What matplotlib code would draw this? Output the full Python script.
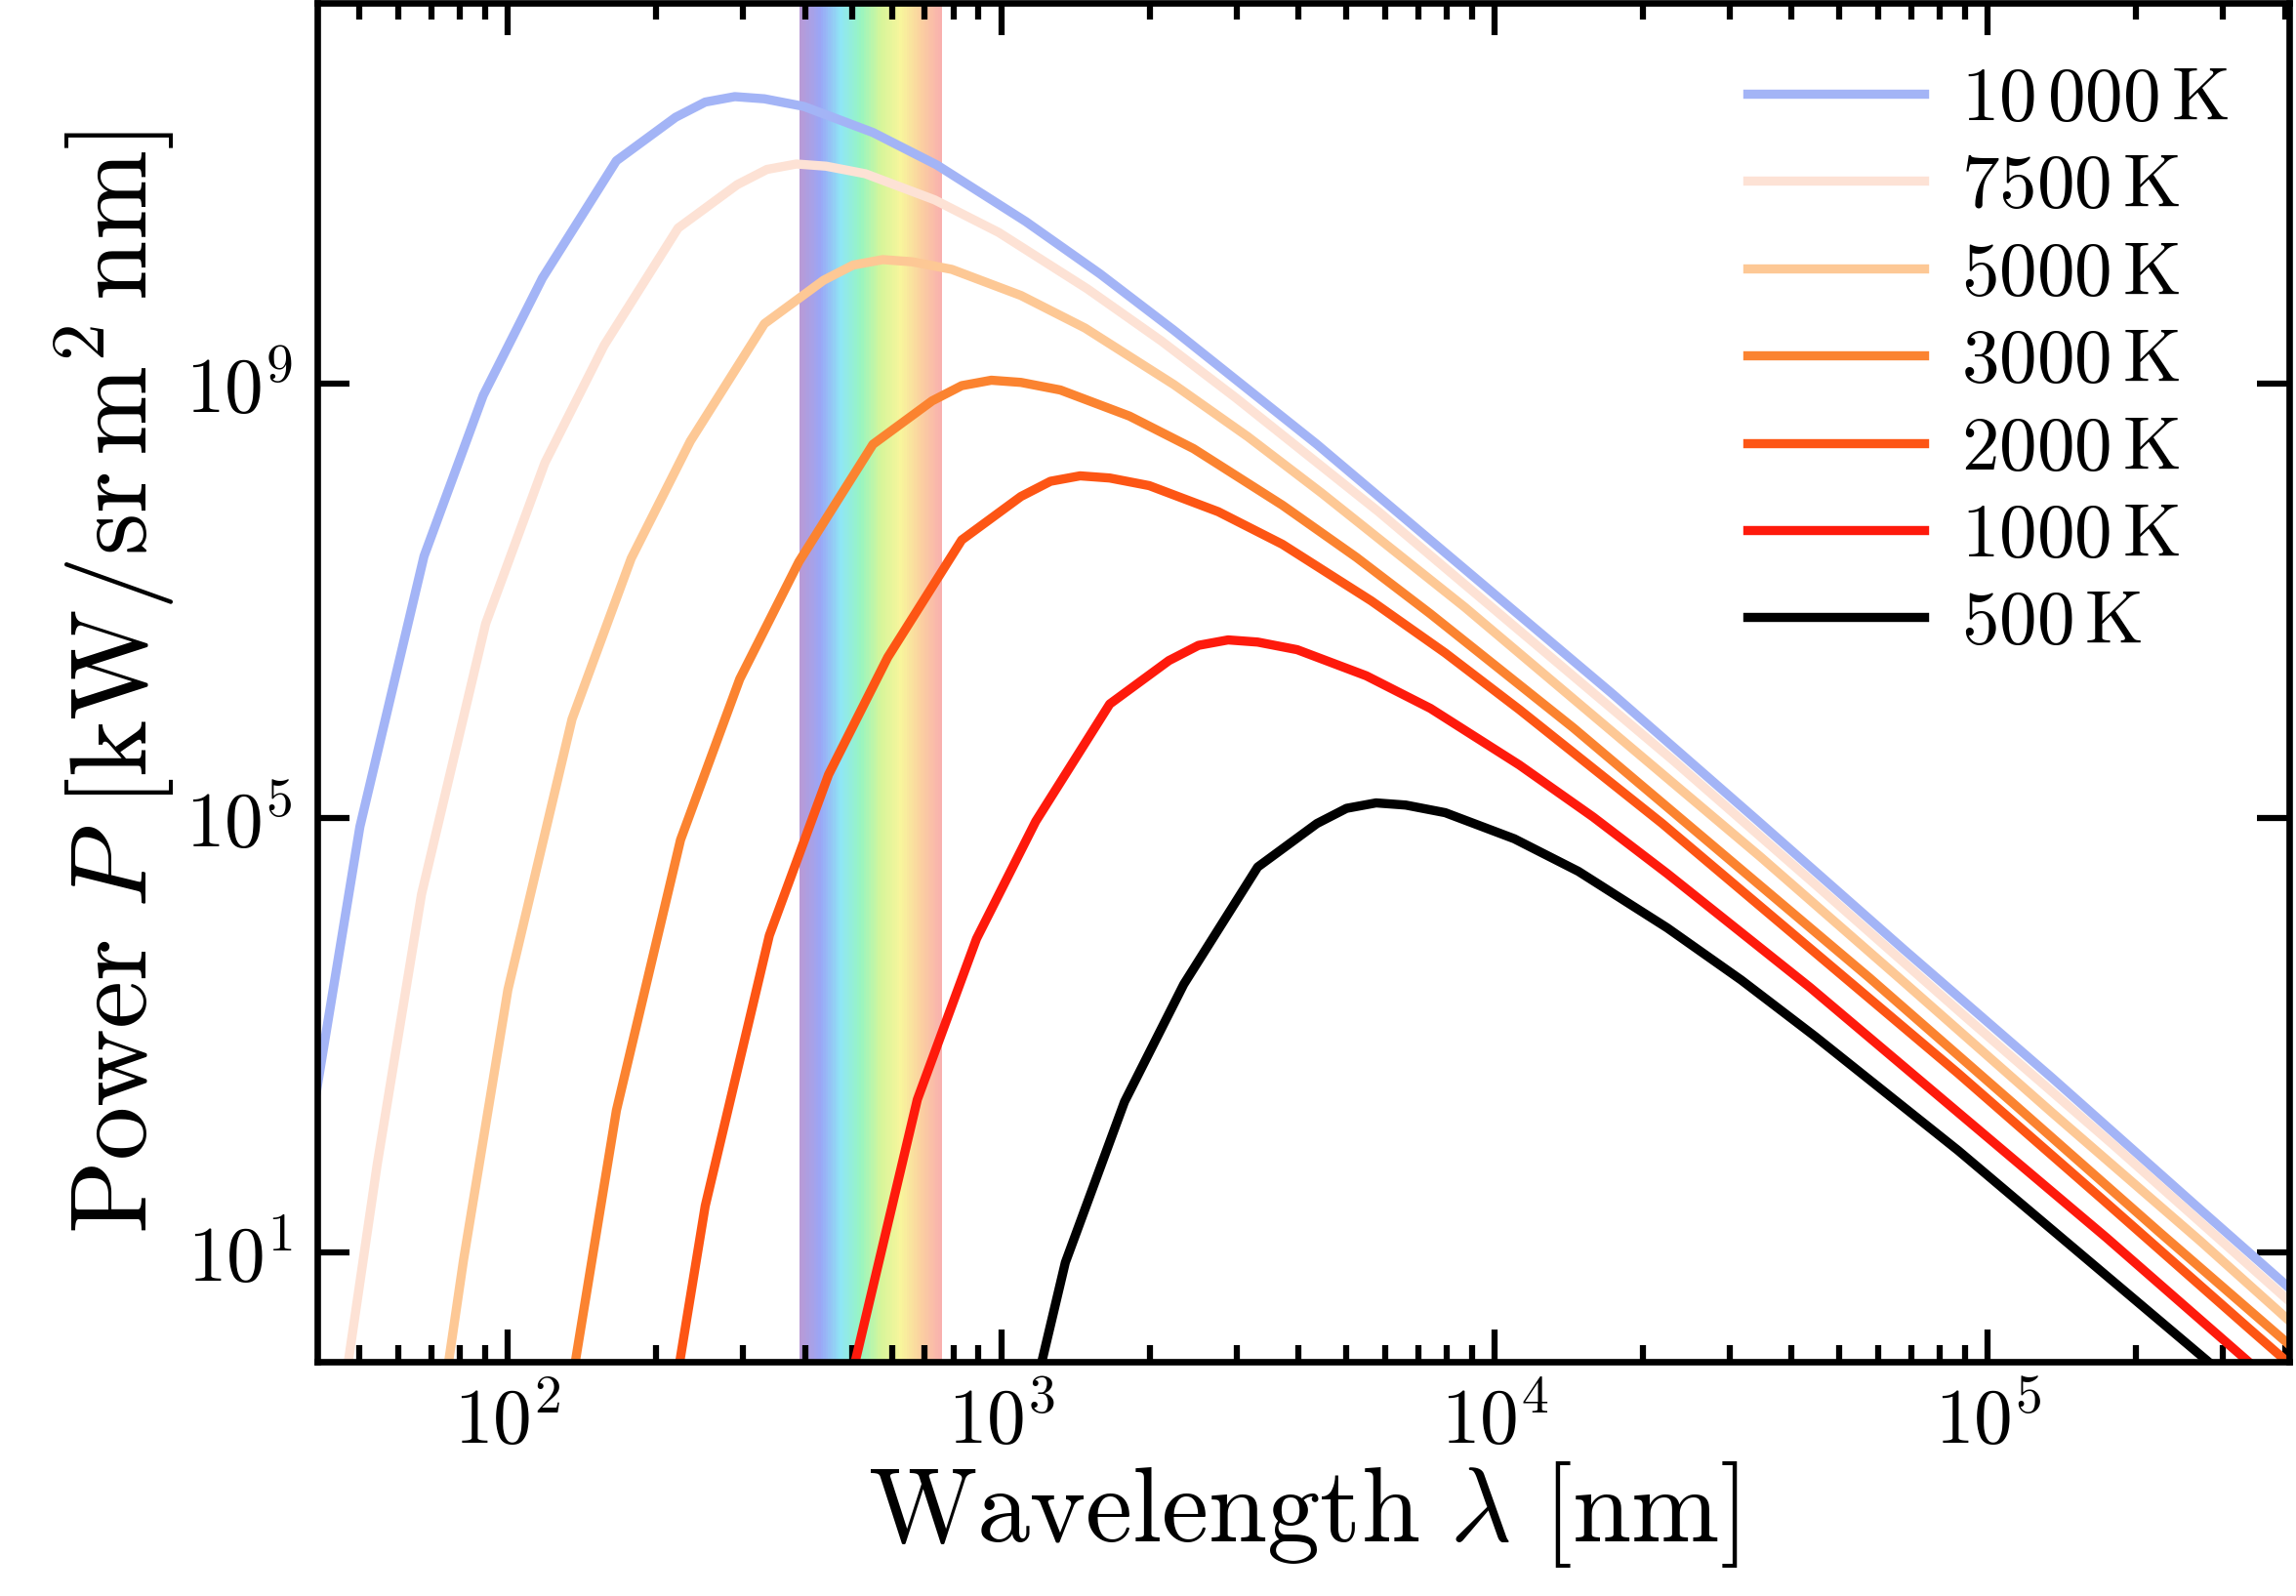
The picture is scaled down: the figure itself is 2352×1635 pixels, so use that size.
import matplotlib
matplotlib.use("Agg")
import matplotlib.pyplot as plt
import numpy as np
from matplotlib.colors import LinearSegmentedColormap
from matplotlib.ticker import NullLocator, LogLocator

plt.rcParams["mathtext.fontset"] = "cm"
plt.rcParams["font.family"] = "serif"
plt.rcParams["font.serif"] = ["DejaVu Serif"]

# log10(wavelength / nm) and log10(power), per temperature
labels = [r"$10\,000\,\mathrm{K}$", r"$7500\,\mathrm{K}$", r"$5000\,\mathrm{K}$",
          r"$3000\,\mathrm{K}$", r"$2000\,\mathrm{K}$", r"$1000\,\mathrm{K}$", r"$500\,\mathrm{K}$"]
colors = ["#a3b4f6", "#fde2d5", "#fdc895", "#fb8330", "#fd5514", "#fe1a0c", "#000000"]

lx_10000 = [1.51, 1.61, 1.70, 1.83, 1.95, 2.07, 2.22, 2.34, 2.40, 2.46, 2.52, 2.60, 2.74, 2.87, 3.05, 3.20, 3.35, 3.64, 3.94, 4.24, 4.53, 4.83, 5.13, 5.42, 5.72]
ly_10000 = [-0.66, 2.43, 4.92, 7.41, 8.89, 9.97, 11.05, 11.45, 11.59, 11.64, 11.62, 11.55, 11.31, 11.01, 10.49, 10.01, 9.49, 8.44, 7.29, 6.14, 4.99, 3.79, 2.61, 1.44, 0.24]
lx_7500 = [1.635, 1.735, 1.825, 1.955, 2.075, 2.195, 2.345, 2.465, 2.525, 2.585, 2.645, 2.725, 2.865, 2.995, 3.175, 3.325, 3.475, 3.765, 4.065, 4.365, 4.655, 4.955, 5.255, 5.545, 5.845]
ly_7500 = [-1.29, 1.81, 4.30, 6.79, 8.27, 9.35, 10.43, 10.83, 10.97, 11.02, 11.00, 10.93, 10.69, 10.39, 9.87, 9.39, 8.87, 7.82, 6.67, 5.52, 4.37, 3.17, 1.99, 0.82, -0.39]
lx_5000 = [1.81, 1.91, 2.00, 2.13, 2.25, 2.37, 2.52, 2.64, 2.70, 2.76, 2.82, 2.90, 3.04, 3.17, 3.35, 3.50, 3.65, 3.94, 4.24, 4.54, 4.83, 5.13, 5.43, 5.72, 6.02]
ly_5000 = [-2.17, 0.93, 3.42, 5.91, 7.39, 8.47, 9.55, 9.95, 10.09, 10.14, 10.12, 10.05, 9.81, 9.51, 8.99, 8.51, 7.99, 6.94, 5.79, 4.64, 3.49, 2.29, 1.11, -0.07, -1.27]
lx_3000 = [2.03, 2.13, 2.22, 2.35, 2.47, 2.59, 2.74, 2.86, 2.92, 2.98, 3.04, 3.12, 3.26, 3.39, 3.57, 3.72, 3.87, 4.16, 4.46, 4.76, 5.05, 5.35, 5.65, 5.94, 6.24]
ly_3000 = [-3.28, -0.19, 2.31, 4.80, 6.28, 7.36, 8.44, 8.84, 8.98, 9.03, 9.01, 8.94, 8.70, 8.40, 7.88, 7.40, 6.88, 5.83, 4.68, 3.53, 2.38, 1.18, 0.00, -1.18, -2.38]
lx_2000 = [2.21, 2.31, 2.40, 2.53, 2.65, 2.77, 2.92, 3.04, 3.10, 3.16, 3.22, 3.30, 3.44, 3.57, 3.75, 3.90, 4.05, 4.34, 4.64, 4.94, 5.23, 5.53, 5.83, 6.12, 6.42]
ly_2000 = [-4.16, -1.07, 1.43, 3.92, 5.40, 6.48, 7.56, 7.96, 8.10, 8.15, 8.13, 8.06, 7.82, 7.52, 7.00, 6.52, 6.00, 4.95, 3.80, 2.65, 1.50, 0.30, -0.89, -2.06, -3.26]
lx_1000 = [2.51, 2.61, 2.70, 2.83, 2.95, 3.07, 3.22, 3.34, 3.40, 3.46, 3.52, 3.60, 3.74, 3.87, 4.05, 4.20, 4.35, 4.64, 4.94, 5.24, 5.53, 5.83, 6.13, 6.42, 6.72]
ly_1000 = [-5.66, -2.57, -0.08, 2.41, 3.89, 4.97, 6.05, 6.45, 6.59, 6.64, 6.62, 6.55, 6.31, 6.01, 5.49, 5.01, 4.49, 3.44, 2.29, 1.14, -0.01, -1.21, -2.39, -3.56, -4.76]
lx_500 = [2.81, 2.91, 3.00, 3.13, 3.25, 3.37, 3.52, 3.64, 3.70, 3.76, 3.82, 3.90, 4.04, 4.17, 4.35, 4.50, 4.65, 4.94, 5.24, 5.54, 5.83, 6.13, 6.43, 6.72, 7.02]
ly_500 = [-7.17, -4.08, -1.58, 0.91, 2.39, 3.47, 4.55, 4.95, 5.09, 5.14, 5.12, 5.05, 4.81, 4.51, 3.99, 3.51, 2.99, 1.94, 0.79, -0.36, -1.51, -2.71, -3.89, -5.06, -6.26]

curves = [(lx_10000, ly_10000), (lx_7500, ly_7500), (lx_5000, ly_5000), (lx_3000, ly_3000),
          (lx_2000, ly_2000), (lx_1000, ly_1000), (lx_500, ly_500)]

# visible band (nm)
band_lo, band_hi = 390, 760
band_colors = ["#b89ad6", "#9aa6f6", "#8fe6f5", "#98f5c0", "#d6f59a", "#f8f59c", "#fbd0a0", "#f9b0ae"]

fig = plt.figure(figsize=(15.68, 10.9), dpi=150)
ax = fig.add_axes([0.138, 0.147, 0.859, 0.851])

cmap = LinearSegmentedColormap.from_list("vis", band_colors)
edges = np.geomspace(band_lo, band_hi, 61)
for i in range(60):
    ax.axvspan(edges[i], edges[i + 1], color=cmap(i / 59), lw=0, zorder=1)

for (lx, ly), lab, col in zip(curves, labels, colors):
    ax.plot(10 ** np.array(lx), 10 ** np.array(ly), color=col, lw=4.5, label=lab,
            zorder=3, solid_joinstyle="round")

ax.set_xscale("log")
ax.set_yscale("log")
ax.set_xlim(41, 4.08e5)
ax.set_ylim(1.0, 10 ** 12.5)
ax.set_yticks([1e1, 1e5, 1e9])
ax.yaxis.set_minor_locator(NullLocator())
ax.set_xticks([1e2, 1e3, 1e4, 1e5])
ax.xaxis.set_minor_locator(LogLocator(base=10, subs=np.arange(2, 10)))
ax.set_xticklabels([r"$10^2$", r"$10^3$", r"$10^4$", r"$10^5$"])
ax.set_yticklabels([r"$10^1$", r"$10^5$", r"$10^9$"])

ax.tick_params(which="both", direction="in", top=True, right=True, labelsize=38, width=3)
ax.tick_params(which="major", length=16, pad=12)
ax.tick_params(which="minor", length=8)
for s in ax.spines.values():
    s.set_linewidth(3.2)
    s.set_zorder(5)

ax.set_xlabel(r"$\mathrm{Wavelength}\ \lambda\ [\mathrm{nm}]$", fontsize=52, labelpad=0)
ax.set_ylabel(r"$\mathrm{Power}\ P\ [\mathrm{kW/sr\,m^2\,nm}]$", fontsize=53, labelpad=4)

ax.legend(loc="upper right", frameon=False, fontsize=37, handlelength=2.35,
          handletextpad=0.5, labelspacing=0.2, borderaxespad=0.4, borderpad=0.4)

fig.savefig("out.png", dpi=150)
